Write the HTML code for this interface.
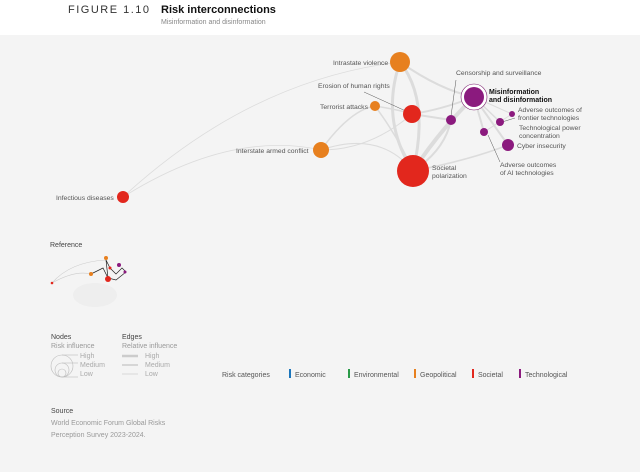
<!DOCTYPE html>
<html><head><meta charset="utf-8"><style>
body{margin:0;width:640px;height:472px;overflow:hidden;background:#f4f4f4;font-family:"Liberation Sans",sans-serif}
.top{position:absolute;left:0;top:0;width:640px;height:35px;background:#fff}
svg{position:absolute;left:0;top:0}
</style></head><body>
<div class="top"></div>
<svg width="640" height="472" viewBox="0 0 640 472" font-family="Liberation Sans, sans-serif">
<text x="68" y="13" font-size="11" letter-spacing="1.5" fill="#333">FIGURE 1.10</text>
<text x="161" y="13" font-size="11" font-weight="bold" fill="#111">Risk interconnections</text>
<text x="161" y="24" font-size="7" fill="#888">Misinformation and disinformation</text>
<g fill="none" stroke="#dcdcdc">
<path d="M123,197 Q250,80 400,62" stroke-width="0.8"/>
<path d="M123,197 Q230,130 321,150" stroke-width="0.8"/>
<path d="M321,150 Q350,110 375,106" stroke-width="1.5"/>
<path d="M321,150 Q380,130 413,171" stroke-width="1"/>
<path d="M321,150 Q370,150 412,114" stroke-width="1"/>
<path d="M400,62 Q380,120 413,171" stroke-width="3"/>
<path d="M400,62 Q430,100 413,171" stroke-width="3"/>
<path d="M400,62 Q440,90 474,97" stroke-width="2"/>
<path d="M412,114 Q440,110 474,97" stroke-width="2"/>
<path d="M412,114 L451,120" stroke-width="2"/>
<path d="M413,171 Q440,130 474,97" stroke-width="4"/>
<path d="M413,171 Q445,150 451,120" stroke-width="2"/>
<path d="M375,106 Q400,110 412,114" stroke-width="1.5"/>
<path d="M375,106 Q400,140 413,171" stroke-width="1.5"/>
<path d="M474,97 L508,145" stroke-width="2"/>
<path d="M474,97 L484,132" stroke-width="2"/>
<path d="M474,97 L500,122" stroke-width="1.5"/>
<path d="M474,97 L512,114" stroke-width="1"/>
<path d="M451,120 L474,97" stroke-width="2"/>
<path d="M413,171 Q470,160 508,145" stroke-width="1.5"/>
<path d="M484,132 L512,114" stroke-width="1"/>
</g>
<g stroke="#555" stroke-width="0.5">
<line x1="456" y1="80" x2="451" y2="116"/><line x1="364" y1="92" x2="408" y2="112"/>
<line x1="515" y1="118" x2="502" y2="122"/><line x1="488" y1="135" x2="500" y2="162"/>
</g>
<circle cx="474" cy="97" r="13" fill="#fff" stroke="#7a1b6c" stroke-width="0.6"/>
<g>
<circle cx="400" cy="62" r="10" fill="#e7801f"/>
<circle cx="375" cy="106" r="5" fill="#e7801f"/>
<circle cx="321" cy="150" r="8" fill="#e7801f"/>
<circle cx="412" cy="114" r="9" fill="#e2271d"/>
<circle cx="413" cy="171" r="16" fill="#e2271d"/>
<circle cx="123" cy="197" r="6" fill="#e2271d"/>
<circle cx="474" cy="97" r="10" fill="#8b1a7e"/>
<circle cx="451" cy="120" r="5" fill="#8b1a7e"/>
<circle cx="512" cy="114" r="3" fill="#8b1a7e"/>
<circle cx="500" cy="122" r="4" fill="#8b1a7e"/>
<circle cx="484" cy="132" r="4" fill="#8b1a7e"/>
<circle cx="508" cy="145" r="6" fill="#8b1a7e"/>
</g>
<g font-size="6.8" fill="#555">
<text x="333" y="65">Intrastate violence</text>
<text x="318" y="88">Erosion of human rights</text>
<text x="320" y="109">Terrorist attacks</text>
<text x="236" y="153">Interstate armed conflict</text>
<text x="56" y="200">Infectious diseases</text>
<text x="432" y="170">Societal</text><text x="432" y="178">polarization</text>
<text x="456" y="75">Censorship and surveillance</text>
<text x="518" y="112">Adverse outcomes of</text><text x="518" y="120">frontier technologies</text>
<text x="519" y="130">Technological power</text><text x="519" y="138">concentration</text>
<text x="517" y="148">Cyber insecurity</text>
<text x="500" y="167">Adverse outcomes</text><text x="500" y="175">of AI technologies</text>
</g>
<text x="489" y="94" font-size="7" font-weight="bold" fill="#111">Misinformation</text>
<text x="489" y="102" font-size="7" font-weight="bold" fill="#111">and disinformation</text>
<text x="50" y="247" font-size="7" fill="#444">Reference</text>
<g fill="none" stroke="#ccc" stroke-width="0.6"><path d="M52,283 Q70,262 106,260"/><path d="M52,283 Q75,270 91,274"/></g>
<g fill="none" stroke="#222" stroke-width="0.7"><path d="M106,260 L110,268 L116,274 L122,268 L126,272 L116,280 L108,278 L106,260"/><path d="M91,274 L103,268 L108,278"/></g>
<ellipse cx="95" cy="295" rx="22" ry="12" fill="#e9e9e9" opacity="0.6"/>
<circle cx="106" cy="258" r="2" fill="#e7801f"/><circle cx="91" cy="274" r="2" fill="#e7801f"/>
<circle cx="108" cy="279" r="3" fill="#e2271d"/><circle cx="52" cy="283" r="1.3" fill="#e2271d"/>
<circle cx="119" cy="265" r="2" fill="#8b1a7e"/><circle cx="125" cy="272" r="1.5" fill="#8b1a7e"/><circle cx="110" cy="268" r="1.5" fill="#e2271d"/>
<text x="51" y="339" font-size="7" fill="#444">Nodes</text>
<text x="51" y="348" font-size="7" fill="#999">Risk influence</text>
<text x="122" y="339" font-size="7" fill="#444">Edges</text>
<text x="122" y="348" font-size="7" fill="#999">Relative influence</text>
<g fill="none" stroke="#bbb" stroke-width="0.6"><circle cx="62" cy="366" r="11"/><circle cx="62" cy="370" r="7"/><circle cx="62" cy="373" r="4"/>
<line x1="62" y1="355" x2="78" y2="355"/><line x1="62" y1="363" x2="78" y2="363"/><line x1="62" y1="377" x2="78" y2="377"/></g>
<g font-size="7" fill="#aaa"><text x="80" y="358">High</text><text x="80" y="367">Medium</text><text x="80" y="376">Low</text>
<text x="145" y="358">High</text><text x="145" y="367">Medium</text><text x="145" y="376">Low</text></g>
<g stroke="#ccc"><line x1="122" y1="356" x2="138" y2="356" stroke-width="2.5"/><line x1="122" y1="365" x2="138" y2="365" stroke-width="1.5"/><line x1="122" y1="374" x2="138" y2="374" stroke-width="0.7"/></g>
<text x="51" y="413" font-size="7" fill="#444">Source</text>
<text x="51" y="425" font-size="7" fill="#999">World Economic Forum Global Risks</text>
<text x="51" y="437" font-size="7" fill="#999">Perception Survey 2023-2024.</text>
<g font-size="7" fill="#555">
<text x="222" y="377">Risk categories</text>
<rect x="289" y="369" width="2" height="9" fill="#1b75bb"/><text x="295" y="377">Economic</text>
<rect x="348" y="369" width="2" height="9" fill="#2a9a48"/><text x="354" y="377">Environmental</text>
<rect x="414" y="369" width="2" height="9" fill="#e7801f"/><text x="420" y="377">Geopolitical</text>
<rect x="472" y="369" width="2" height="9" fill="#e2271d"/><text x="478" y="377">Societal</text>
<rect x="519" y="369" width="2" height="9" fill="#8b1a7e"/><text x="525" y="377">Technological</text>
</g>
</svg>
</body></html>
